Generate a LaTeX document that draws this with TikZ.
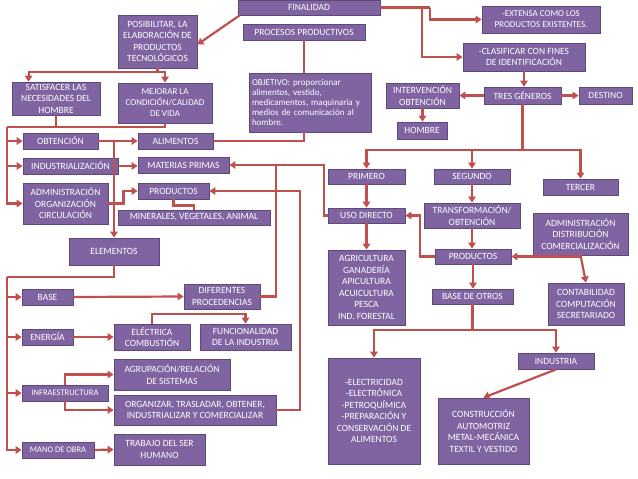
\documentclass[tikz,border=0pt]{standalone}
\usepackage{fontspec}
\setmainfont{Carlito}
\usetikzlibrary{arrows.meta}
\definecolor{boxfill}{HTML}{8064A2}
\definecolor{boxline}{HTML}{5E4A7A}
\definecolor{conn}{HTML}{C0504D}
\newcommand\mybox[7][]{\node[box,minimum width=#5pt,minimum height=#6pt,#1] (#2) at (#3,#4) {#7};}
\begin{document}
\begin{tikzpicture}[x=1pt,y=-1pt,
  box/.style={draw=boxline,line width=0.8pt,fill=boxfill,text=white,
    font=\fontsize{9.5}{11.5}\selectfont,align=center,inner sep=1pt},
  small/.style={font=\fontsize{8.5}{10}\selectfont},
  mid/.style={font=\fontsize{9}{11}\selectfont},
  line/.style={draw=conn,line width=2.2pt},
  arr/.style={line,-{Triangle[length=6pt,width=7.5pt]}}]
\useasboundingbox[fill=white] (0,0) rectangle (638,479);
% left / top nodes
\mybox{fin}{309}{7.5}{142}{15}{FINALIDAD}
\mybox{proc}{304}{32}{122}{16}{PROCESOS PRODUCTIVOS}
\mybox{pos}{157.5}{41.5}{79}{53}{POSIBILITAR, LA\\ELABORACIÓN DE\\PRODUCTOS\\TECNOLÓGICOS}
\mybox{sat}{56}{98.5}{88}{33}{SATISFACER LAS\\NECESIDADES DEL\\HOMBRE}
\mybox[mid]{mej}{165}{103}{94}{40}{MEJORAR LA\\CONDICIÓN/CALIDAD\\DE VIDA}
\node[box,font=\fontsize{9}{10}\selectfont,align=left,minimum width=122pt,minimum height=59pt,text width=116pt] (obj) at (310,102.5) {OBJETIVO: proporcionar\\alimentos, vestido,\\medicamentos, maquinaria y\\medios de comunicación al\\hombre.};
\mybox[mid]{ext}{541}{19.5}{118}{27}{-EXTENSA COMO LOS\\PRODUCTOS EXISTENTES.}
\mybox{clas}{524}{57}{122}{28}{-CLASIFICAR CON FINES\\DE IDENTIFICACIÓN}
\mybox{interv}{422.5}{95.5}{73}{25}{INTERVENCIÓN\\OBTENCIÓN}
\mybox{tres}{522.5}{95.5}{77}{17}{TRES GÉNEROS}
\mybox{dest}{605.5}{95.5}{53}{17}{DESTINO}
\mybox{homR}{422}{130.5}{50}{17}{HOMBRE}
\mybox{obt}{60.5}{141}{75}{16}{OBTENCIÓN}
\mybox{ali}{175.5}{141}{75}{16}{ALIMENTOS}
\mybox{ind}{70.5}{166}{95}{16}{INDUSTRIALIZACIÓN}
\mybox{mat}{183.5}{165}{91}{16}{MATERIAS PRIMAS}
\mybox{admL}{65.5}{203.5}{85}{41}{ADMINISTRACIÓN\\ORGANIZACIÓN\\CIRCULACIÓN}
\mybox{prodL}{173.5}{191}{71}{16}{PRODUCTOS}
\mybox{min}{194}{217.5}{152}{15}{MINERALES, VEGETALES, ANIMAL}
\mybox{elem}{114}{251.5}{90}{27}{ELEMENTOS}
\mybox{bas}{47.5}{297}{51}{16}{BASE}
\mybox{dif}{222}{296.5}{76}{25}{DIFERENTES\\PROCEDENCIAS}
\mybox{ener}{47.5}{337}{51}{16}{ENERGÍA}
\mybox{elec}{152}{337}{76}{26}{ELÉCTRICA\\COMBUSTIÓN}
\mybox{func}{245.5}{337}{91}{26}{FUNCIONALIDAD\\DE LA INDUSTRIA}
\mybox{agr}{172}{374.5}{116}{31}{AGRUPACIÓN/RELACIÓN\\DE SISTEMAS}
\mybox[small]{infra}{65}{393}{86}{16}{INFRAESTRUCTURA}
\mybox{org}{195}{410}{162}{30}{ORGANIZAR, TRASLADAR, OBTENER,\\INDUSTRIALIZAR Y COMERCIALIZAR}
\mybox[small]{mano}{58}{450}{72}{16}{MANO DE OBRA}
\mybox{trab}{159.5}{449.5}{91}{31}{TRABAJO DEL SER\\HUMANO}
% right nodes
\mybox{prim}{366.5}{176.5}{77}{15}{PRIMERO}
\mybox{seg}{472}{176.5}{76}{15}{SEGUNDO}
\mybox{terc}{580.5}{187}{75}{16}{TERCER}
\mybox{uso}{366.5}{215.5}{77}{15}{USO DIRECTO}
\mybox{trans}{472}{215.5}{96}{25}{TRANSFORMACIÓN/\\OBTENCIÓN}
\mybox{admR}{580.5}{234}{95}{42}{ADMINISTRACIÓN\\DISTRIBUCIÓN\\COMERCIALIZACIÓN}
\mybox{prodR}{473}{256.5}{76}{15}{PRODUCTOS}
\mybox{agri}{366.5}{287.5}{77}{75}{AGRICULTURA\\GANADERÍA\\APICULTURA\\ACUICULTURA\\PESCA\\IND. FORESTAL}
\mybox{bdo}{472.5}{296.5}{81}{15}{BASE DE OTROS}
\mybox{cont}{586}{304}{76}{42}{CONTABILIDAD\\COMPUTACIÓN\\SECRETARIADO}
\mybox{indu}{556}{361}{76}{16}{INDUSTRIA}
\mybox{elecR}{374}{411}{92}{106}{-ELECTRICIDAD\\-ELECTRÓNICA\\-PETROQUÍMICA\\-PREPARACIÓN Y\\CONSERVACIÓN DE\\ALIMENTOS}
\mybox{cons}{483.5}{431}{91}{66}{CONSTRUCCIÓN\\AUTOMOTRIZ\\METAL-MECÁNICA\\TEXTIL Y VESTIDO}
% coordinates
\coordinate (F1) at (430,7.5);
\coordinate (F2) at (422,7.5);
\coordinate (P1) at (157.5,72);
\coordinate (L1) at (7,127);
\coordinate (L2) at (7,277);
\coordinate (A1) at (324,215.5);
\coordinate (D1) at (276,296.5);
\coordinate (D2) at (276,165);
\coordinate (O1) at (300,410);
\coordinate (R1) at (522.5,150);
\coordinate (R2) at (472.5,330);
\coordinate (R3) at (420,256.5);
% connectors top
\draw[arr] ([xshift=2pt]fin.south west) -- ([yshift=-3pt]pos.east);
\draw[line] (fin.east) -- (F1);
\draw[arr] (F1) |- (ext.west);
\draw[arr] (F2) |- (clas.west);
\draw[line] (proc.south) -- (proc.south |- obj.north);
\draw[line] (pos.south) -- (P1);
\draw[arr] (P1) -| (mej.north);
\draw[arr] (P1) -| ([xshift=17pt]sat.north west);
\draw[line] (sat.south) -- (sat.south |- L1);
\draw[line] (mej.south) |- (L1);
\draw[arr] (L1) |- (obt.west);
\draw[arr] (L1) |- (ind.west);
\draw[arr] (L1) |- (admL.west);
\draw[arr] (obt.east) -- (ali.west);
\draw[arr] (obt.east) -| (elem.north);
\draw[line] (ali.east) -| ([xshift=-6pt]obj.south);
\draw[arr] (ind.east) -- (ind.east -| mat.west);
\draw[arr] (admL.east) -- ++(15,0) |- (prodL.west);
\draw[line] (prodL.south) -- ++(0,6) -| (min.north);
\draw[arr] (uso.west) -- (A1) |- (mat.east);
\draw[line] (dif.east) -- (D1) -- (D2);
\draw[arr] (org.east) -- (O1) |- (prodL.east);
% elementos
\draw[line] (elem.south) |- (L2);
\draw[arr] (L2) |- (bas.west);
\draw[arr] (L2) |- (ener.west);
\draw[arr] (L2) |- (infra.west);
\draw[arr] (L2) |- (mano.west);
\draw[arr] (bas.east) -- (dif.west);
\draw[arr] (ener.east) -- (elec.west);
\draw[arr] (elec.north) -- ++(0,-10) -| (func.north);
\draw[arr] (infra.north) |- (agr.west);
\draw[arr] (infra.south) |- (org.west);
\draw[arr] (mano.east) -- (trab.west);
% right connectors
\draw[arr] (clas.south) -- (clas.south |- tres.north);
\draw[arr] (tres.west) -- (interv.east);
\draw[arr] (tres.east) -- (dest.west);
\draw[arr] (interv.south) -- (interv.south |- homR.north);
\draw[line] (tres.south) -- (R1);
\draw[arr] (R1) -| (prim.north);
\draw[arr] (R1) -| (seg.north);
\draw[arr] (R1) -| (terc.north);
\draw[arr] (prim.south) -- (uso.north);
\draw[arr] (uso.south) -- (agri.north);
\draw[arr] (seg.south) -- (trans.north);
\draw[arr] (trans.south) -- (trans.south |- prodR.north);
\draw[arr] (prodR.south) -- (prodR.south |- bdo.north);
\draw[arr] (prodR.west) -- (R3) |- (uso.east);
\draw[arr] (admR.south) |- (prodR.east);
\draw[arr] (admR.south) -- (cont.north);
\draw[line] (bdo.south) -- (R2);
\draw[arr] (R2) -| (elecR.north);
\draw[arr] (R2) -| (indu.north);
\draw[arr] (indu.south) -- (cons.north);
\end{tikzpicture}
\end{document}
